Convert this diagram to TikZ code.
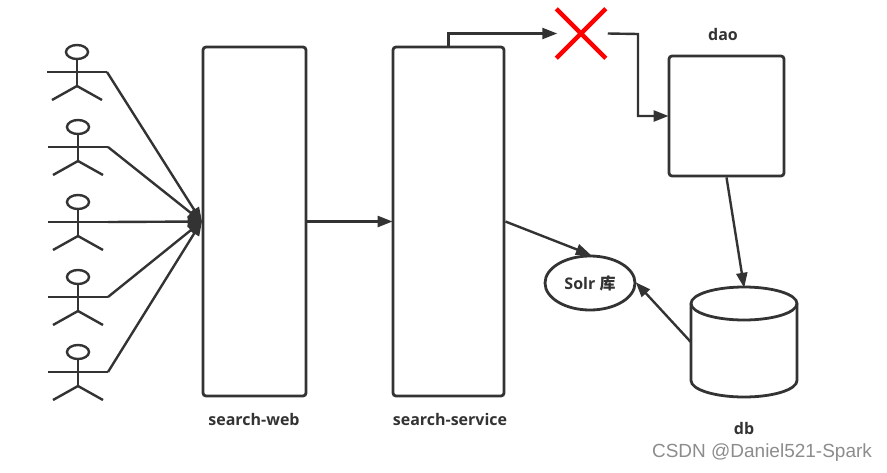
\documentclass[tikz,border=0pt]{standalone}
\usepackage{fontspec}
\setmainfont{Open Sans}
\setsansfont{Liberation Sans}
\newfontfamily\cjk{Noto Sans CJK SC}
\usepackage{xcolor}
\usetikzlibrary{arrows.meta,shapes.geometric,shapes.misc}
\definecolor{inkgray}{RGB}{51,51,51}
\tikzset{
  line/.style={draw=inkgray,line width=2.4pt},
  arrow/.style={line,-{Triangle[length=15pt,width=11pt]},shorten >=-1pt},
  box/.style={line,rounded corners=3pt,inner sep=0pt,line width=2.8pt},
  caption/.style={font=\fontsize{16}{18}\selectfont\bfseries,text=inkgray,inner sep=0pt},
  head/.style={line,ellipse,inner sep=0pt,minimum width=22pt,minimum height=14pt}
}
\begin{document}
\begin{tikzpicture}[x=1pt,y=-1pt]
  \useasboundingbox (0,0) rectangle (887,472);

  \node[box,minimum width=103pt,minimum height=349pt] (web) at (254.5,221.5) {};
  \node[box,minimum width=111pt,minimum height=349pt] (svc) at (448.5,221.5) {};
  \node[box,minimum width=115pt,minimum height=120pt] (dao) at (726.5,116) {};
  \node[line,ellipse,line width=2.8pt,inner sep=0pt,minimum width=90pt,minimum height=54pt,caption] (solr) at (590,283) {Solr {\cjk 库}};
  \node[inner sep=0pt,minimum width=106pt,minimum height=110pt] (db) at (744,342) {};
  \draw[line,line width=2.8pt] (744,303.5) ellipse[x radius=53pt,y radius=16.5pt];
  \draw[line,line width=2.8pt] (691,303.5) -- (691,380.5) arc[start angle=180,end angle=360,x radius=53pt,y radius=16.5pt] -- (797,303.5);
  \node[draw=red,cross out,line width=4.5pt,inner sep=0pt,minimum size=45pt] (xmark) at (581,33.5) {};
  \coordinate (bend) at (638,34);

  \node[caption] (weblabel) at (254,419) {search-web};
  \node[caption] (svclabel) at (450,419) {search-service};
  \node[caption] (daolabel) at (723,34) {dao};
  \node[caption] (dblabel) at (744,428) {db};
  \node[font=\sffamily\fontsize{19}{21}\selectfont,text=black!45,inner sep=0pt] (mark) at (762,453) {CSDN @Daniel521-Spark};

  \foreach \n/\x/\y in {1/77/72,2/78/147,3/78/222,4/78/297,5/78/372}{
    \node[head] (head\n) at (\x,\y-20) {};
    \coordinate (arm\n) at (\x+30,\y);
    \coordinate (hip\n) at (\x,\y+14);
    \draw[line] (head\n) -- (hip\n);
    \draw[line] (\x-30,\y) -- (arm\n);
    \draw[line] (\x-25,\y+28) -- (hip\n) -- (\x+25,\y+28);
    \draw[arrow] (arm\n) -- (web.west);
  }

  \draw[arrow] (web.east) -- (svc.west);
  \draw[arrow] (svc.north) |- (xmark.west);
  \draw[arrow] ([xshift=2pt]xmark.east) -- (bend) |- (dao.west);
  \draw[arrow] (svc.east) -- (solr.north);
  \draw[arrow] (dao.south) -- (db.north);
  \draw[arrow] (db.west) -- (solr.east);
\end{tikzpicture}
\end{document}
